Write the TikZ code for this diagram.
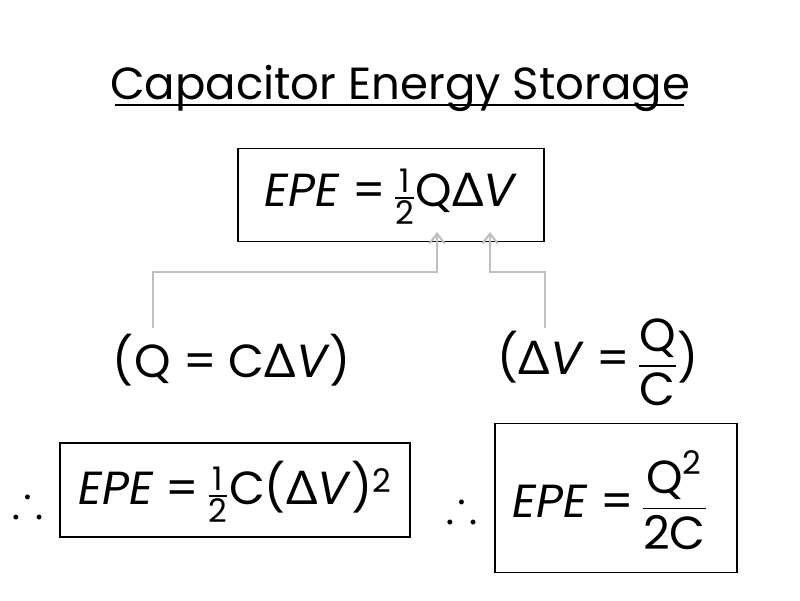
\documentclass[tikz,border=0pt]{standalone}
\usepackage{amsmath}
\usepackage{amssymb}
\usepackage{fontspec}
\setmainfont{Poppins}
\newfontfamily\dfont{Lato}
\usetikzlibrary{arrows.meta}
\newcommand{\tx}[1]{\text{#1}}
\newcommand{\D}{{\dfont Δ}}
\begin{document}
\begin{tikzpicture}[x=0.025cm,y=-0.025cm,
  eq/.style={font=\fontsize{33}{38}\selectfont},
  box/.style={draw,line width=1pt,inner sep=0pt,anchor=center},
  conn/.style={draw=black!25,line width=1.5pt,->,>={Straight Barb[length=7pt,width=11pt]}}]
\useasboundingbox (0,0) rectangle (800,600);
\node[font=\fontsize{32}{36}\selectfont] (title) at (400,88) {Capacitor Energy Storage};
\draw[line width=1.5pt] (115,105) -- (684,105);
\node[box,minimum width=306*0.025cm,minimum height=93*0.025cm] (top) at (391,195) {};
\node[eq] (topt) at (391,197) {\textit{EPE} =\,$\frac{\tx{1}}{\tx{2}}$Q\D\textit{V}};
\node[eq] (l) at (232,360) {(Q = C\D\textit{V})};
\node[eq] (r) at (598,362) {(\D\textit{V} =\,$\dfrac{\tx{Q}}{\tx{C}}$)};
\coordinate (ls) at (153,328); \coordinate (rs) at (545,328);
\coordinate (la) at (437,232); \coordinate (ra) at (490,232);
\draw[conn] (ls) |- (437,272) -- (la);
\draw[conn] (rs) |- (490,272) -- (ra);
\node[eq] (t1) at (28,500) {$\therefore$};
\node[box,minimum width=350*0.025cm,minimum height=94*0.025cm] (b1) at (235,490) {};
\node[eq] (b1t) at (235,492) {\textit{EPE} =\,$\frac{\tx{1}}{\tx{2}}$C(\D\textit{V})$^{\tx{2}}$};
\node[eq] (t2) at (462,505) {$\therefore$};
\node[box,minimum width=242*0.025cm,minimum height=149*0.025cm] (b2) at (616,498) {};
\node[eq] (b2t) at (610,500) {\textit{EPE} =\,$\dfrac{\tx{Q}^{\tx{2}}}{\tx{2C}}$};
\end{tikzpicture}
\end{document}
